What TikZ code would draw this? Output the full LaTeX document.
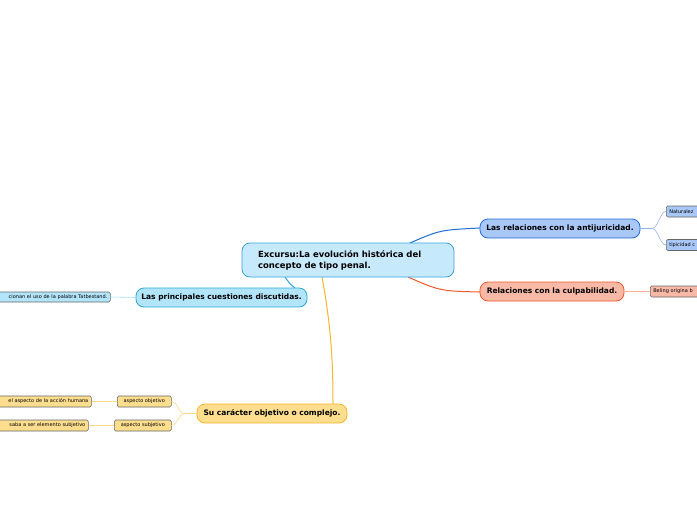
\documentclass[tikz,border=0pt]{standalone}
\usepackage{fontspec}
\setmainfont{DejaVu Sans}
\begin{document}
\begin{tikzpicture}[x=1pt,y=-1pt,
  main/.style={draw,rounded corners=8pt,line width=0.8pt,inner sep=0pt,font=\bfseries\fontsize{7.5}{9}\selectfont},
  leaf/.style={draw=gray!80!black,rounded corners=1.5pt,line width=0.6pt,inner xsep=3pt,inner ysep=0pt,font=\fontsize{5}{6}\selectfont,anchor=west,align=left}]
\definecolor{cfill}{HTML}{C6E9FB}\definecolor{cline}{HTML}{3BA3E0}
\definecolor{afill}{HTML}{A9C8F7}\definecolor{aline}{HTML}{1F6ED4}
\definecolor{rfill}{HTML}{F8B9A7}\definecolor{rline}{HTML}{F05A28}
\definecolor{pfill}{HTML}{B3E5FA}\definecolor{pline}{HTML}{2CA8E0}
\definecolor{yfill}{HTML}{FDDD8E}\definecolor{yline}{HTML}{F8B62B}
\useasboundingbox (0,0) rectangle (697,520);
\clip (0,0) rectangle (697,520);
\fill[white] (0,0) rectangle (697,520);
% connectors
\coordinate (cA) at (410,243); \coordinate (cR) at (408,277);
\coordinate (cP) at (285,277); \coordinate (cY) at (322,277);
\draw[aline,line width=1pt] (cA) .. controls (440,230) .. (480,228);
\draw[rline,line width=1pt] (cR) .. controls (440,291) .. (480,292);
\draw[pline,line width=1pt] (cP) .. controls (290,284) .. (295,288);
\draw[yline,line width=1pt] (cY) .. controls (332,330) and (333,370) .. (333,404);
% main nodes
\node[main,fill=cfill,draw=cline,minimum width=212pt,minimum height=34pt,align=left,font=\bfseries\fontsize{8.5}{11}\selectfont,text width=180pt] (c) at (348,260) {Excursu:La evolución histórica del\\concepto de tipo penal.};
\node[main,fill=afill,draw=aline,minimum width=160pt,minimum height=19pt] (a) at (560,228.5) {Las relaciones con la antijuricidad.};
\node[main,fill=rfill,draw=rline,minimum width=144pt,minimum height=19pt] (r) at (552,291.5) {Relaciones con la culpabilidad.};
\node[main,fill=pfill,draw=pline,minimum width=171pt,minimum height=19pt] (p) at (221.5,297.5) {Las principales cuestiones discutidas.};
\node[main,fill=yfill,draw=yline,minimum width=150pt,minimum height=19pt] (y) at (272,413.5) {Su carácter objetivo o complejo.};
% leaves
\node[leaf,fill=afill,text width=54pt,minimum height=11pt] (a1) at (666,211.5) {Naturalez};
\node[leaf,fill=afill,text width=54pt,minimum height=11pt] (a2) at (666,245) {tipicidad c};
\node[leaf,fill=rfill,text width=74pt,minimum height=11pt] (r1) at (650,291.5) {Beling origina b};
\node[leaf,fill=pfill,text width=109pt,minimum height=10pt,align=right] (p1) at (-5,297) {cionan el uso de la palabra Tatbestand.};
\node[leaf,fill=yfill,minimum width=54pt,minimum height=11pt,align=center] (y1) at (117,401.5) {aspecto objetivo};
\node[leaf,fill=yfill,minimum width=57pt,minimum height=11pt,align=center] (y2) at (114,425.5) {aspecto subjetivo};
\node[leaf,fill=yfill,text width=90pt,minimum height=11pt,align=right] (y11) at (-5,401.5) {el aspecto de la acción humana};
\node[leaf,fill=yfill,text width=87pt,minimum height=11pt,align=right] (y21) at (-5,425.5) {saba a ser elemento subjetivo};
% leaf connectors
\draw[afill!80!aline,line width=0.6pt] (a.east) -- (652,228.5) .. controls (658,228.5) and (660,211.5) .. (a1.west);
\draw[afill!80!aline,line width=0.6pt] (652,228.5) .. controls (658,228.5) and (660,245) .. (a2.west);
\draw[rfill!90!rline,line width=0.6pt] (r.east) -- (r1.west);
\draw[pfill!90!pline,line width=0.6pt] (p.west) -- (p1.east);
\draw[yfill!90!yline,line width=0.6pt] (y.west) -- (185,413.5) .. controls (178,413.5) and (178,401.5) .. (y1.east);
\draw[yfill!90!yline,line width=0.6pt] (185,413.5) .. controls (178,413.5) and (178,425.5) .. (y2.east);
\draw[yfill!90!yline,line width=0.6pt] (y1.west) -- (y11.east);
\draw[yfill!90!yline,line width=0.6pt] (y2.west) -- (y21.east);
\end{tikzpicture}
\end{document}
